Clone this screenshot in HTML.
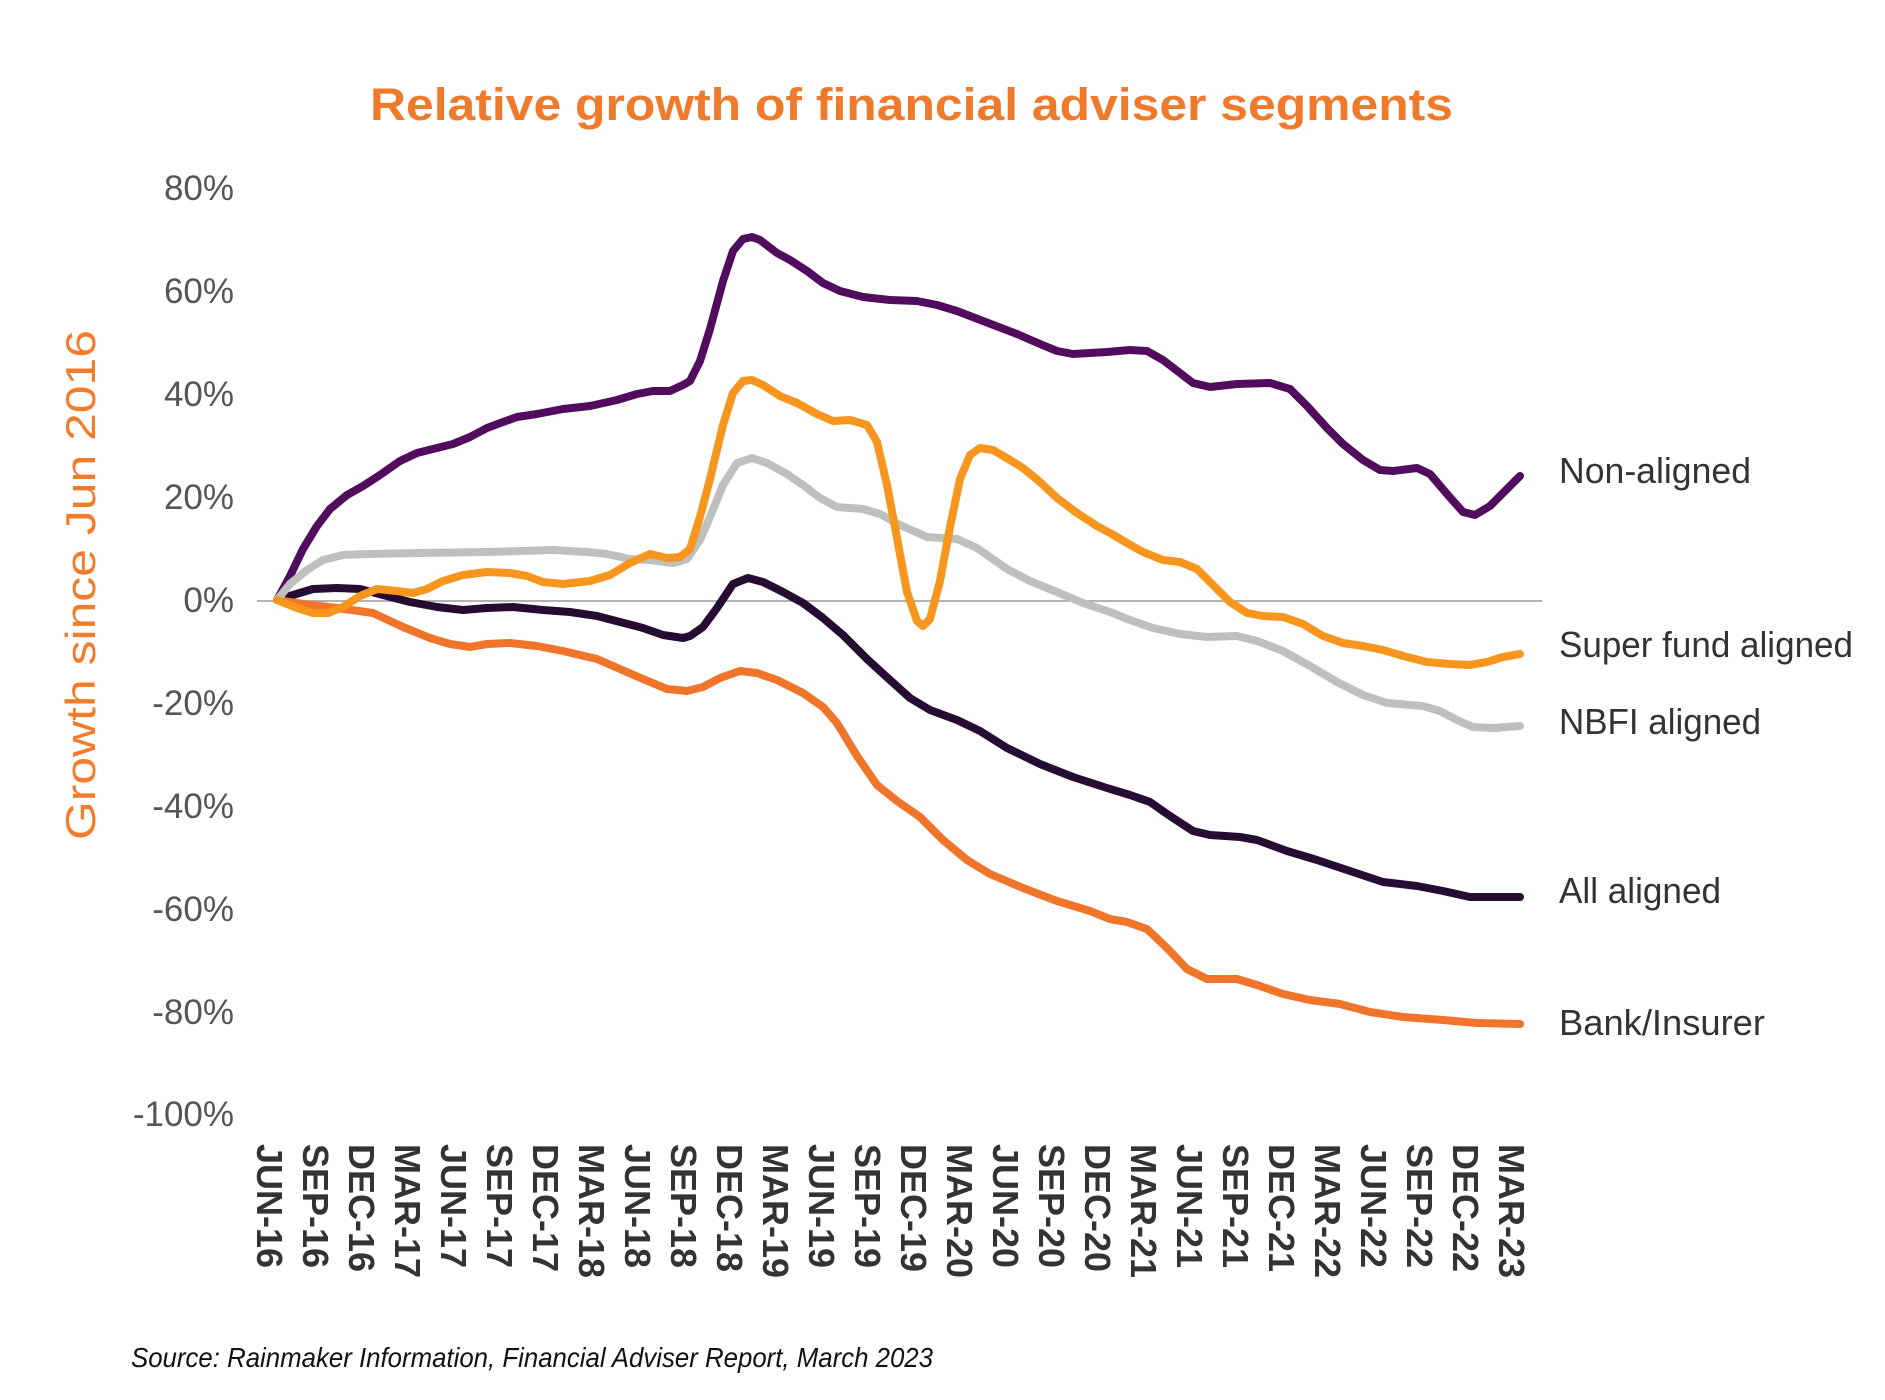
<!DOCTYPE html>
<html><head><meta charset="utf-8"><style>
html,body{margin:0;padding:0;background:#fff;}
svg{display:block;}
</style></head><body>
<svg width="1885" height="1400" viewBox="0 0 1885 1400" xmlns="http://www.w3.org/2000/svg">
<rect width="1885" height="1400" fill="#fff"/>
<text x="370" y="120" font-family="Liberation Sans, sans-serif" font-weight="bold" font-size="45" fill="#F07A2B" textLength="1083" lengthAdjust="spacingAndGlyphs">Relative growth of financial adviser segments</text>

<text transform="translate(95,840) rotate(-90)" font-family="Liberation Sans, sans-serif" font-size="42" fill="#F47B2A" textLength="510" lengthAdjust="spacingAndGlyphs">Growth since Jun 2016</text>

<g font-family="Liberation Sans, sans-serif" font-size="35" fill="#555" text-anchor="end">
<text x="234" y="200">80%</text>
<text x="234" y="303">60%</text>
<text x="234" y="406">40%</text>
<text x="234" y="509">20%</text>
<text x="234" y="612">0%</text>
<text x="234" y="715">-20%</text>
<text x="234" y="818">-40%</text>
<text x="234" y="921">-60%</text>
<text x="234" y="1024">-80%</text>
<text x="234" y="1126">-100%</text>
</g>

<line x1="257" y1="601" x2="1542" y2="601" stroke="#9a9a9a" stroke-width="1.5"/>

<g fill="none" stroke-width="8" stroke-linejoin="round" stroke-linecap="round">
<polyline stroke="#520C5E" points="277,600 290,576 303,549 317,526 330,509 347,495 363,486 380,475 400,461 417,453 433,449 453,444 470,437 487,428 503,422 517,417 537,414 563,409 590,406 617,400 637,394 653,391 670,391 683,385 690,381 700,361 710,329 723,281 733,251 743,239 752,237 760,240 777,253 790,260 807,271 823,283 840,291 863,297 890,300 917,301 937,305 957,311 983,321 1017,334 1040,344 1057,351 1073,354 1107,352 1130,350 1147,351 1163,360 1180,373 1193,383 1210,387 1237,384 1270,383 1290,389 1307,406 1327,428 1343,444 1363,460 1380,470 1393,471 1417,468 1430,474 1447,494 1463,512 1475,515 1490,506 1507,489 1520,476"/>
<polyline stroke="#260B32" points="277,600 293,595 313,589 337,588 360,589 383,595 410,602 437,607 463,610 487,608 513,607 543,610 570,612 597,616 620,622 643,628 663,635 683,638 690,636 703,627 717,608 733,584 748,578 763,582 783,592 803,603 823,618 843,635 867,659 890,680 910,698 930,710 957,720 980,731 1007,748 1040,764 1073,777 1107,788 1130,795 1150,802 1170,816 1193,831 1210,835 1240,837 1257,840 1287,851 1317,860 1350,871 1383,882 1417,886 1443,891 1470,897 1520,897"/>
<polyline stroke="#F0742A" points="277,600 303,604 337,608 373,613 403,627 430,638 450,644 470,647 487,644 510,643 537,646 563,651 597,659 620,669 643,679 667,689 687,691 703,687 720,678 740,671 757,673 777,680 803,693 823,707 837,723 857,756 877,785 897,801 920,817 943,840 967,860 990,874 1023,888 1057,901 1090,911 1110,919 1127,922 1147,929 1167,948 1187,969 1207,979 1237,979 1257,985 1283,994 1310,1000 1340,1004 1370,1012 1403,1017 1443,1020 1477,1023 1520,1024"/>
<polyline stroke="#BEC0BE" points="277,600 290,584 307,570 323,560 343,555 370,554 420,553 487,552 553,550 587,552 607,554 630,559 650,560 673,563 687,559 700,540 710,517 723,485 737,463 752,458 767,463 787,474 803,485 820,498 837,507 863,509 880,514 900,525 927,537 957,539 977,548 1007,569 1030,581 1057,592 1083,603 1110,612 1130,620 1153,628 1180,634 1207,637 1237,636 1257,641 1283,651 1310,666 1337,682 1363,695 1387,703 1423,706 1440,711 1457,720 1473,727 1493,728 1520,726"/>
<polyline stroke="#F7961F" points="277,600 297,608 313,613 328,613 343,607 360,596 377,589 397,591 413,593 427,589 443,581 463,575 487,572 510,573 527,576 543,582 563,584 590,581 610,575 630,563 650,554 667,558 680,557 690,549 700,517 710,479 723,425 733,393 743,381 752,380 763,385 780,396 797,403 817,414 833,421 850,420 867,425 877,442 887,485 897,538 907,592 917,621 923,626 930,619 940,581 950,527 960,479 970,455 980,448 993,450 1010,460 1023,468 1040,482 1057,498 1077,513 1097,526 1110,533 1127,543 1143,552 1163,560 1180,562 1197,569 1213,585 1230,602 1247,613 1263,616 1283,617 1303,624 1323,636 1343,643 1363,646 1383,650 1403,656 1427,662 1450,664 1470,665 1487,662 1503,657 1520,654"/>
</g>

<g font-family="Liberation Sans, sans-serif" font-size="36" fill="#333">
<text x="1559" y="483" textLength="192" lengthAdjust="spacingAndGlyphs">Non-aligned</text>
<text x="1559" y="657" textLength="294" lengthAdjust="spacingAndGlyphs">Super fund aligned</text>
<text x="1559" y="734" textLength="202" lengthAdjust="spacingAndGlyphs">NBFI aligned</text>
<text x="1559" y="903" textLength="162" lengthAdjust="spacingAndGlyphs">All aligned</text>
<text x="1559" y="1035" textLength="206" lengthAdjust="spacingAndGlyphs">Bank/Insurer</text>
</g>

<g font-family="Liberation Sans, sans-serif" font-size="36" font-weight="bold" fill="#333">
<text transform="translate(257,1144) rotate(90)">JUN-16</text>
<text transform="translate(303,1144) rotate(90)">SEP-16</text>
<text transform="translate(349,1144) rotate(90)">DEC-16</text>
<text transform="translate(395,1144) rotate(90)">MAR-17</text>
<text transform="translate(441,1144) rotate(90)">JUN-17</text>
<text transform="translate(487,1144) rotate(90)">SEP-17</text>
<text transform="translate(533,1144) rotate(90)">DEC-17</text>
<text transform="translate(579,1144) rotate(90)">MAR-18</text>
<text transform="translate(625,1144) rotate(90)">JUN-18</text>
<text transform="translate(671,1144) rotate(90)">SEP-18</text>
<text transform="translate(717,1144) rotate(90)">DEC-18</text>
<text transform="translate(763,1144) rotate(90)">MAR-19</text>
<text transform="translate(809,1144) rotate(90)">JUN-19</text>
<text transform="translate(855,1144) rotate(90)">SEP-19</text>
<text transform="translate(901,1144) rotate(90)">DEC-19</text>
<text transform="translate(947,1144) rotate(90)">MAR-20</text>
<text transform="translate(993,1144) rotate(90)">JUN-20</text>
<text transform="translate(1039,1144) rotate(90)">SEP-20</text>
<text transform="translate(1085,1144) rotate(90)">DEC-20</text>
<text transform="translate(1131,1144) rotate(90)">MAR-21</text>
<text transform="translate(1177,1144) rotate(90)">JUN-21</text>
<text transform="translate(1223,1144) rotate(90)">SEP-21</text>
<text transform="translate(1269,1144) rotate(90)">DEC-21</text>
<text transform="translate(1315,1144) rotate(90)">MAR-22</text>
<text transform="translate(1361,1144) rotate(90)">JUN-22</text>
<text transform="translate(1407,1144) rotate(90)">SEP-22</text>
<text transform="translate(1453,1144) rotate(90)">DEC-22</text>
<text transform="translate(1499,1144) rotate(90)">MAR-23</text>
</g>

<text x="131" y="1367" font-family="Liberation Sans, sans-serif" font-style="italic" font-size="28" fill="#111" textLength="802" lengthAdjust="spacingAndGlyphs">Source: Rainmaker Information, Financial Adviser Report, March 2023</text>
</svg>
</body></html>
